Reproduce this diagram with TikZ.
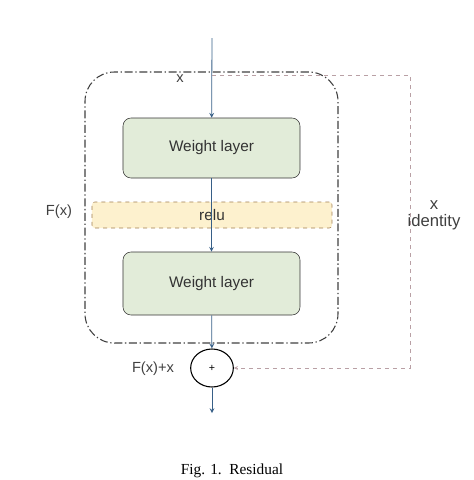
\documentclass[tikz,border=0pt]{standalone}
\usepackage{fontspec}
\setmainfont{Liberation Serif}
\setsansfont{Liberation Sans}
\usepackage{tikz}
\usetikzlibrary{calc}
\usetikzlibrary{positioning}
\usetikzlibrary{shapes.geometric}
\definecolor{flow}{RGB}{55,95,135}
\definecolor{idline}{RGB}{185,160,165}
\definecolor{layerfill}{RGB}{226,236,217}
\definecolor{relufill}{RGB}{253,241,206}
\definecolor{reluedge}{RGB}{160,125,80}

\begin{document}
\begin{tikzpicture}[x=0.75pt, y=-0.75pt, font=\sffamily,
    layer/.style={rectangle, rounded corners=6pt, draw=black!80, fill=layerfill, minimum width=132.75pt, text=black!80, font=\sffamily\fontsize{11.5}{13}\selectfont},
    act/.style={rectangle, rounded corners=2pt, dashed, draw=reluedge, fill=relufill, minimum width=180pt, minimum height=19.5pt, text=black!80, font=\sffamily\fontsize{11.5}{13}\selectfont},
    lbl/.style={text=black!75, font=\sffamily\fontsize{11}{12}\selectfont},
    flowarrow/.style={draw=flow, ->, >=stealth, semithick}]
            \useasboundingbox (0, 0) rectangle (474, 480);
            \node[rectangle, rounded corners=22pt, draw=black!75, dash pattern=on 6pt off 2pt on 1pt off 2pt, thick, minimum width=189.75pt, minimum height=203.25pt] (block) at (211.5, 207.5) {};
            \node[act] (relu) at (212, 215) {relu};
            \node[layer, minimum height=45pt] (w1) at (211.5, 148) {Weight layer};
            \node[layer, minimum height=47.25pt] (w2) at (211.5, 283.5) {Weight layer};
            \node[ellipse, draw=black, thick, minimum width=32pt, minimum height=28.5pt, inner sep=0pt] (sum) at (212, 368) {\footnotesize +};
            \coordinate (in) at (212, 38);
            \coordinate (out) at (212, 413);
            \coordinate (split) at (212, 75);
            \coordinate (idtop) at (410, 75);
            \draw[flowarrow] (in) -- (w1);
            \draw[flowarrow] (w1) -- (w2);
            \draw[flowarrow] (w2) -- (sum);
            \draw[flowarrow] (sum) -- (out);
            \draw[idline, dashed, ->, >=stealth] (split) -- (idtop) |- (sum.east);
            \node[lbl] (xin) at (180, 79) {x};
            \node[lbl] (fx) at (59, 212) {F(x)};
            \node[lbl] (fxx) at (153, 369) {F(x)+x};
            \node[lbl, font=\sffamily\fontsize{12.5}{14}\selectfont] (xid) at (434, 205) {x};
            \node[lbl, font=\sffamily\fontsize{12.5}{14}\selectfont, below=-3pt of xid] (ident) {identity};
            \node[font=\rmfamily\fontsize{11.5}{13}\selectfont] (cap) at (232, 471) {Fig. 1.\ \ Residual};
        \end{tikzpicture}
\end{document}
